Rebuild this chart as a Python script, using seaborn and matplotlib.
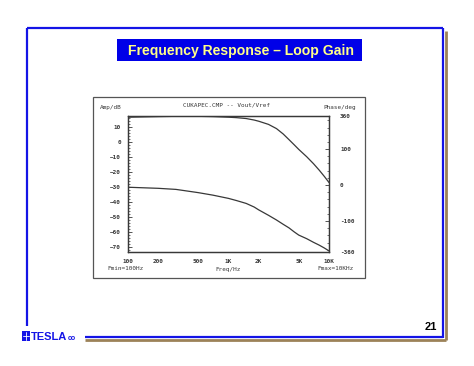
import numpy as np
import pandas as pd
import matplotlib
matplotlib.use("Agg")
import matplotlib.pyplot as plt
import seaborn as sns
from matplotlib.patches import Rectangle
from matplotlib.lines import Line2D
from matplotlib.ticker import FixedLocator, MultipleLocator, NullFormatter

# ---------------- data ----------------
freq_hz = [100, 200, 300, 500, 700, 1000, 1200, 1500, 1800, 2000, 2500, 3000, 3500,
           4000, 4500, 5000, 6000, 7000, 8000, 9000, 10000]
gain_db = [16.6, 17.0, 17.2, 17.2, 17.0, 16.6, 16.3, 15.7, 14.7, 13.9, 11.8, 9.0, 5.4,
           1.6, -1.8, -4.9, -9.8, -14.4, -18.8, -23.0, -27.0]
phase_deg = [-6, -9, -12, -21, -28, -37, -43, -51, -61, -69, -84, -97, -109,
             -119, -130, -139, -149, -159, -167, -175, -183]

x_ticks = [100, 200, 500, 1000, 2000, 5000, 10000]
x_tick_labels = ["100", "200", "500", "1K", "2K", "5K", "10K"]
amp_ticks = [10, 0, -10, -20, -30, -40, -50, -60, -70]
phase_ticks = [-186, -100, 0, 100, 192]
phase_tick_labels = ["-360", "-100", "0", "100", "360"]

title_text = "Frequency Response \u2013 Loop Gain"
chart_title = "CUKAPEC.CMP -- Vout/Vref"
page_no = "21"

df_gain = pd.DataFrame({"freq": freq_hz, "gain": gain_db})
df_phase = pd.DataFrame({"freq": freq_hz, "phase": phase_deg})

# ---------------- figure ----------------
sns.set_style("white")
plt.rcParams["font.family"] = ["Liberation Sans", "DejaVu Sans"]

W, H = 474, 366
fig = plt.figure(figsize=(W / 100, H / 100), dpi=100)
fig.patch.set_facecolor("white")

# overlay for slide decorations (pixel coordinates)
ov = fig.add_axes([0, 0, 1, 1], zorder=0)
ov.set_xlim(0, W)
ov.set_ylim(H, 0)
ov.axis("off")

blue = "#1414E6"
shadow = "#9C8258"
# shadow
ov.add_line(Line2D([446, 446], [31, 340], color=shadow, lw=2.0, solid_capstyle="butt"))
ov.add_line(Line2D([85, 446], [340, 340], color=shadow, lw=2.0, solid_capstyle="butt"))
# frame
ov.add_line(Line2D([27.5, 27.5], [28, 326], color=blue, lw=1.6, solid_capstyle="butt"))
ov.add_line(Line2D([27, 443], [28, 28], color=blue, lw=1.6, solid_capstyle="butt"))
ov.add_line(Line2D([443, 443], [28, 337.5], color=blue, lw=1.6, solid_capstyle="butt"))
ov.add_line(Line2D([85, 443], [337, 337], color=blue, lw=1.6, solid_capstyle="butt"))

# title box
ov.add_patch(Rectangle((117, 39), 245, 22, facecolor="#0000E8", edgecolor="none"))
ov.text(241.5, 50.5, title_text, color="#FFFF88", fontsize=10.1, fontweight="bold",
        ha="center", va="center")

# page number
ov.text(437, 327, page_no, color="black", fontsize=8, fontweight="bold",
        ha="right", va="center")

# logo
ov.add_patch(Rectangle((22, 331), 8, 10, facecolor=blue, edgecolor="none"))
ov.add_line(Line2D([23, 29], [336, 336], color="white", lw=0.6))
ov.add_line(Line2D([26, 26], [332, 340], color="white", lw=0.6))
ov.text(31, 336.5, "TESLA", color=blue, fontsize=8.0, fontweight="bold",
        ha="left", va="center")
ov.text(67.5, 338, "co", color=blue, fontsize=5.0, fontweight="bold",
        ha="left", va="center")

# scanned chart border
ov.add_patch(Rectangle((93, 97), 272, 181, facecolor="white", edgecolor="#555555", lw=0.9))

# ---------------- the chart ----------------
ink = "#383838"
mono = ["DejaVu Sans Mono"]
fs = 4.3

ax = fig.add_axes([128 / W, 1 - 252 / H, 201 / W, 136 / H], zorder=2)
ax.set_facecolor("none")
sns.lineplot(data=df_gain, x="freq", y="gain", ax=ax, color=ink, lw=0.9)
ax.set_xscale("log")
ax.set_xlim(100, 10000)
ax.set_ylim(-73.4, 17.4)
ax.set_xlabel("")
ax.set_ylabel("")
ax.xaxis.set_major_locator(FixedLocator(x_ticks))
ax.set_xticklabels(x_tick_labels)
ax.xaxis.set_minor_formatter(NullFormatter())
ax.yaxis.set_major_locator(FixedLocator(amp_ticks))
ax.yaxis.set_minor_locator(MultipleLocator(2))
for s in ax.spines.values():
    s.set_color(ink)
    s.set_linewidth(0.9)
ax.tick_params(which="major", direction="in", length=3, width=0.6, color=ink,
               labelsize=fs, labelcolor=ink, pad=5)
ax.tick_params(which="minor", direction="in", length=1.5, width=0.5, color=ink)
for lab in ax.get_xticklabels() + ax.get_yticklabels():
    lab.set_family(mono)
    lab.set_fontweight("bold")

ax2 = ax.twinx()
sns.lineplot(data=df_phase, x="freq", y="phase", ax=ax2, color=ink, lw=0.9)
ax2.set_ylim(-186, 192)
ax2.set_ylabel("")
ax2.yaxis.set_major_locator(FixedLocator(phase_ticks))
ax2.set_yticklabels(phase_tick_labels)
ax2.yaxis.set_minor_locator(MultipleLocator(20))
for s in ax2.spines.values():
    s.set_color(ink)
    s.set_linewidth(0.9)
ax2.tick_params(which="major", direction="in", length=3, width=0.6, color=ink,
                labelsize=fs, labelcolor=ink, pad=8)
ax2.tick_params(which="minor", direction="in", length=1.5, width=0.5, color=ink)
for lab in ax2.get_yticklabels():
    lab.set_family(mono)
    lab.set_fontweight("bold")

tk = dict(fontsize=fs, color=ink, family=mono, transform=ax.transAxes)
ax.text(-0.14, 1.066, "Amp/dB", ha="left", va="center", **tk)
ax.text(0.49, 1.08, chart_title, ha="center", va="center", **tk)
ax.text(0.97, 1.066, "Phase/deg", ha="left", va="center", **tk)
ax.text(-0.105, -0.125, "Fmin=100Hz", ha="left", va="center", **tk)
ax.text(0.5, -0.125, "Freq/Hz", ha="center", va="center", **tk)
ax.text(0.94, -0.125, "Fmax=10KHz", ha="left", va="center", **tk)

fig.savefig("out.png", dpi=100)
